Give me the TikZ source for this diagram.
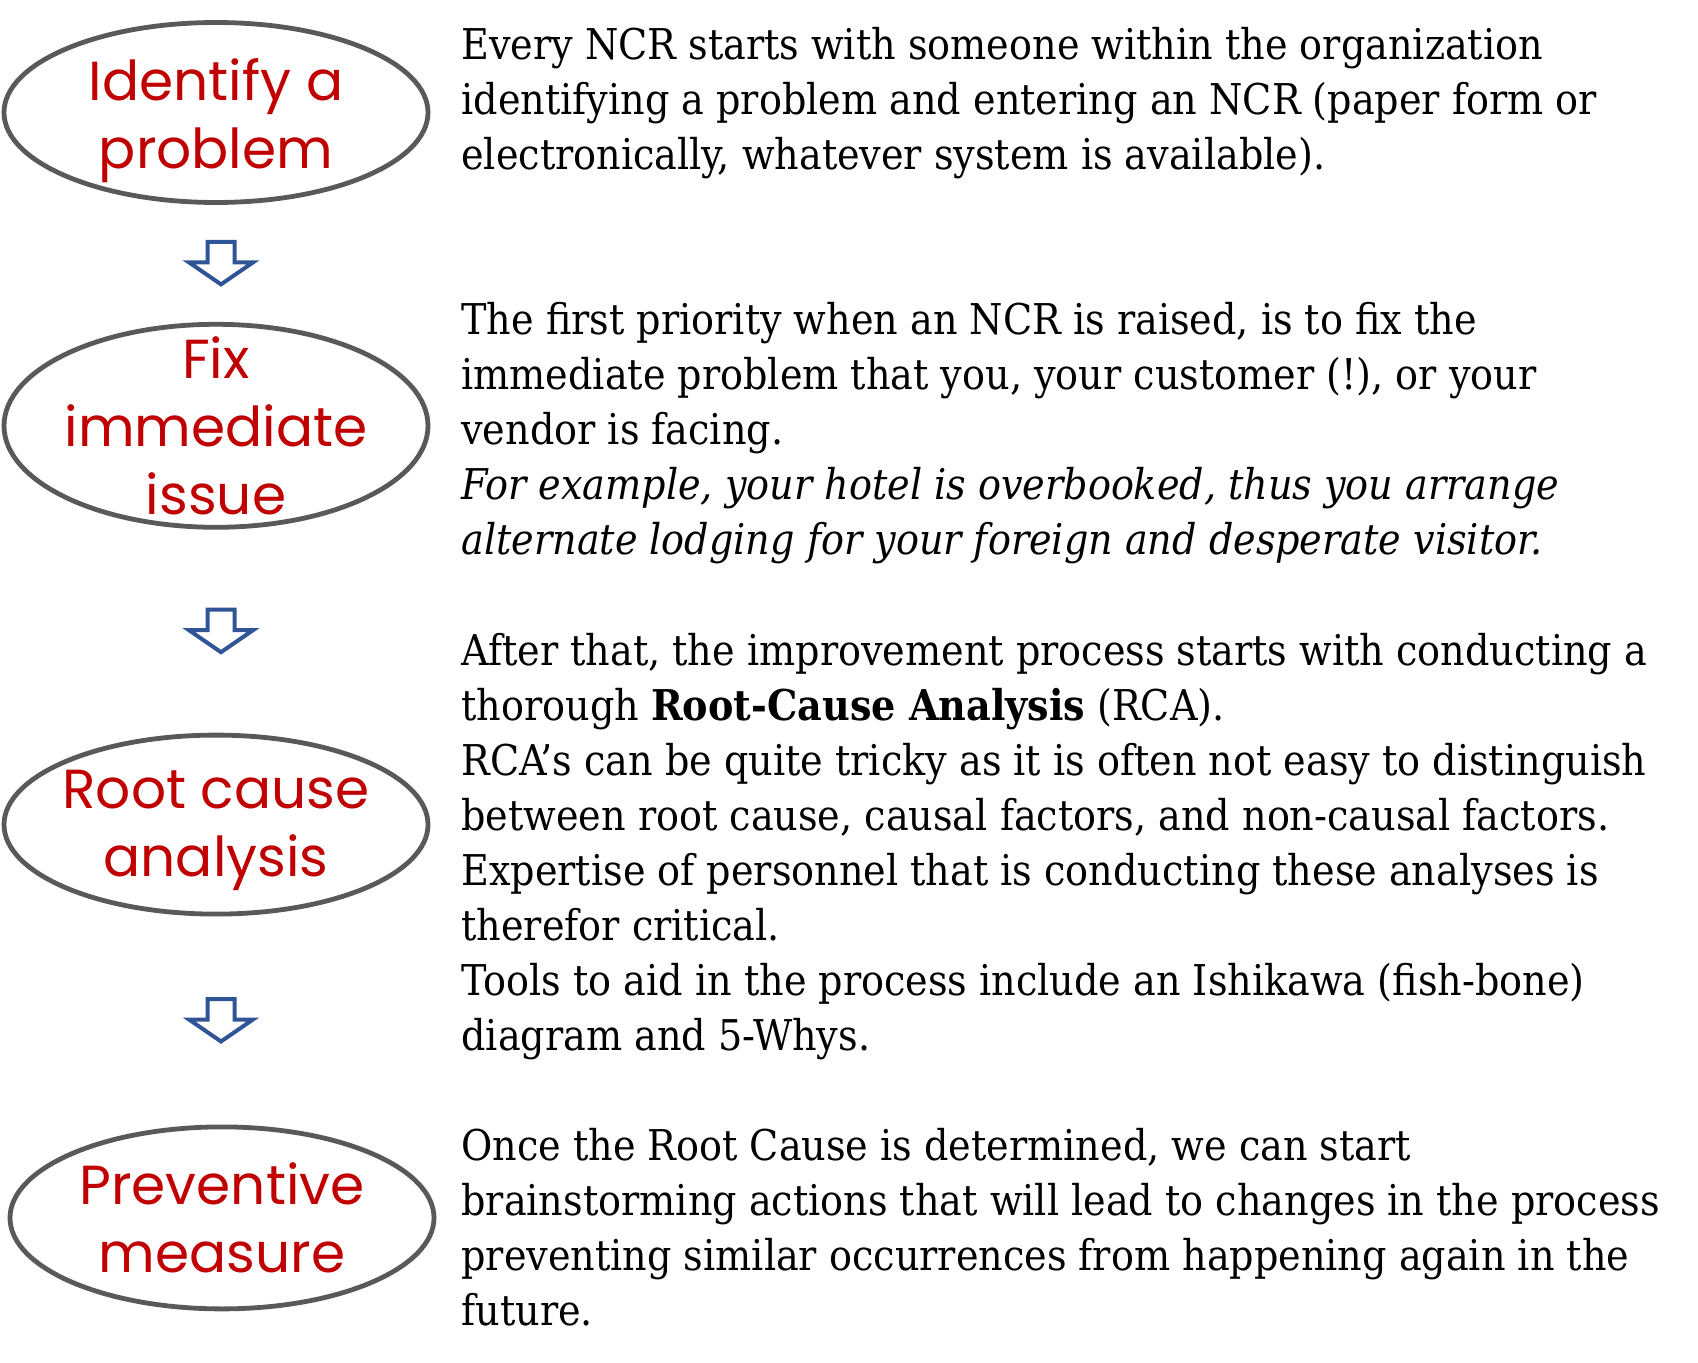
\documentclass[tikz,border=0pt]{standalone}
\usepackage{fontspec}
\setmainfont{DejaVu Serif Condensed}
\newfontfamily\stagefont{Poppins}
\usetikzlibrary{positioning,calc,shapes.geometric}
\usepackage{xcolor}
\definecolor{stageline}{HTML}{595959}
\definecolor{stagered}{HTML}{C00000}
\definecolor{arrblue}{HTML}{2F5597}
\tikzset{
  stage/.style={ellipse,draw=stageline,line width=2.4pt,minimum width=212pt,inner sep=0pt},
  stagetext/.style={align=center,text=stagered,inner sep=0pt,font=\stagefont\fontsize{27.5}{34}\selectfont},
  note/.style={anchor=base west,align=left,inner sep=0pt,font=\fontsize{21.2}{27.5}\selectfont},
  blockarr/.style={draw=arrblue,line width=2pt,fill=white,line join=miter},
  downarr/.pic={\draw[blockarr] (-13.5,-21.5) -- (13.5,-21.5) -- (13.5,-1) -- (32,-1) -- (0,21) -- (-32,-1) -- (-13.5,-1) -- cycle;}
}

\begin{document}
\begin{tikzpicture}[x=0.5pt,y=-0.5pt]
  \useasboundingbox (0,0) rectangle (1698,1363);
  % stages
  \node[stage,minimum height=90pt] (ident) at (216,112.5) {};
  \node[stage,minimum height=101.5pt,below=58.5pt of ident] (fix) {};
  \node[stage,minimum height=89.5pt,below=101.5pt of fix] (rca) {};
  \node[stage,minimum height=91pt,below=104pt of rca,xshift=3pt] (prev) {};
  \node[stagetext,yshift=-4pt] (identtxt) at (ident) {Identify a\\problem};
  \node[stagetext] (fixtxt) at (fix) {Fix\\immediate\\issue};
  \node[stagetext,yshift=-3pt] (rcatxt) at (rca) {Root cause\\analysis};
  \node[stagetext] (prevtxt) at (prev) {Preventive\\measure};
  % arrows between stages
  \coordinate (a1) at ($(ident.south)!0.5!(fix.north)+(5,0)$);
  \coordinate (a2) at ($(fix.south)!0.5!(rca.north)+(5,0)$);
  \coordinate (a3) at ($(rca.south)!0.5!(prev.north)+(2,0)$);
  \pic at (a1) {downarr};
  \pic at (a2) {downarr};
  \pic at (a3) {downarr};
  % notes (placed at the baseline of their last line)
  \node[note] (identnote) at (461,170) {Every NCR starts with someone within the organization\\identifying a problem and entering an NCR (paper form or\\electronically, whatever system is available).};
  \node[note] (fixnote) at (461,555) {The first priority when an NCR is raised, is to fix the\\immediate problem that you, your customer (!), or your\\vendor is facing.\\\textit{For example, your hotel is overbooked, thus you arrange}\\\textit{alternate lodging for your foreign and desperate visitor.}};
  \node[note] (rcanote) at (461,1050.5) {After that, the improvement process starts with conducting a\\thorough \textbf{Root-Cause Analysis} (RCA).\\RCA’s can be quite tricky as it is often not easy to distinguish\\between root cause, causal factors, and non-causal factors.\\Expertise of personnel that is conducting these analyses is\\therefor critical.\\Tools to aid in the process include an Ishikawa (fish-bone)\\diagram and 5-Whys.};
  \node[note] (prevnote) at (461,1325.5) {Once the Root Cause is determined, we can start\\brainstorming actions that will lead to changes in the process\\preventing similar occurrences from happening again in the\\future.};
\end{tikzpicture}
\end{document}
